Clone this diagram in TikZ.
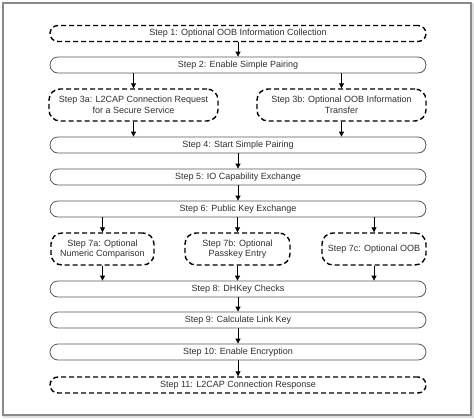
\documentclass[tikz,border=0pt]{standalone}
\usepackage{fontspec}
\setmainfont{Liberation Sans}
\usetikzlibrary{arrows.meta}
\definecolor{framegray}{HTML}{8A8A8A}
\definecolor{boxgray}{HTML}{5A5A5A}
\definecolor{txtgray}{HTML}{303030}
\begin{document}
\begin{tikzpicture}[x=1pt,y=-1pt,
  solidbox/.style={draw=boxgray,line width=0.8pt,rounded corners=8pt,minimum width=376pt,minimum height=16pt,inner sep=0pt,text=txtgray,font=\fontsize{9}{10.5}\selectfont},
  dashbox/.style={draw=black,line width=1.4pt,dash pattern=on 5pt off 3pt,rounded corners=11pt,minimum height=32pt,inner sep=0pt,align=center,text=txtgray,font=\fontsize{9}{10.5}\selectfont},
  dashwide/.style={draw=black,line width=1.4pt,dash pattern=on 5pt off 3pt,rounded corners=8pt,minimum width=376pt,minimum height=16pt,inner sep=0pt,text=txtgray,font=\fontsize{9}{10.5}\selectfont},
  arr/.style={draw=black,line width=0.8pt,-{Triangle[length=5pt,width=5pt]}}
]
\useasboundingbox (0,0) rectangle (474,418);
\fill[white] (0,0) rectangle (474,418);
\fill[black!12] (3,415) rectangle (474,418);
\fill[black!12] (471,3) rectangle (474,418);
\draw[framegray,line width=1.5pt] (3,3) rectangle (471,415);

\node[dashwide] (s1) at (238,33.5) {Step 1: Optional OOB Information Collection};
\node[solidbox] (s2) at (238,65) {Step 2: Enable Simple Pairing};
\node[dashbox,minimum width=169pt] (s3a) at (133.5,105) {Step 3a: L2CAP Connection Request\\for a Secure Service};
\node[dashbox,minimum width=169pt] (s3b) at (341.5,105) {Step 3b: Optional OOB Information\\Transfer};
\node[solidbox] (s4) at (238,145) {Step 4: Start Simple Pairing};
\node[solidbox] (s5) at (238,177) {Step 5: IO Capability Exchange};
\node[solidbox] (s6) at (238,209) {Step 6: Public Key Exchange};
\node[dashbox,minimum width=103pt] (s7a) at (102.5,249) {Step 7a: Optional\\Numeric Comparison};
\node[dashbox,minimum width=105pt] (s7b) at (237.5,249) {Step 7b: Optional\\Passkey Entry};
\node[dashbox,minimum width=104pt] (s7c) at (374,249) {Step 7c: Optional OOB};
\node[solidbox] (s8) at (238,289) {Step 8: DHKey Checks};
\node[solidbox] (s9) at (238,320) {Step 9: Calculate Link Key};
\node[solidbox] (s10) at (238,352) {Step 10: Enable Encryption};
\node[dashwide] (s11) at (238,385) {Step 11: L2CAP Connection Response};

\draw[arr] (s1) -- (s2);
\draw[arr] (s3a.north |- s2.south) -- (s3a.north);
\draw[arr] (s3b.north |- s2.south) -- (s3b.north);
\draw[arr] (s3a.south) -- (s3a.south |- s4.north);
\draw[arr] (s3b.south) -- (s3b.south |- s4.north);
\draw[arr] (s4) -- (s5);
\draw[arr] (s5) -- (s6);
\draw[arr] (s7a.north |- s6.south) -- (s7a.north);
\draw[arr] (s7b.north |- s6.south) -- (s7b.north);
\draw[arr] (s7c.north |- s6.south) -- (s7c.north);
\draw[arr] (s7a.south) -- (s7a.south |- s8.north);
\draw[arr] (s7b.south) -- (s7b.south |- s8.north);
\draw[arr] (s7c.south) -- (s7c.south |- s8.north);
\draw[arr] (s8) -- (s9);
\draw[arr] (s9) -- (s10);
\draw[arr] (s10) -- (s11);
\end{tikzpicture}
\end{document}
